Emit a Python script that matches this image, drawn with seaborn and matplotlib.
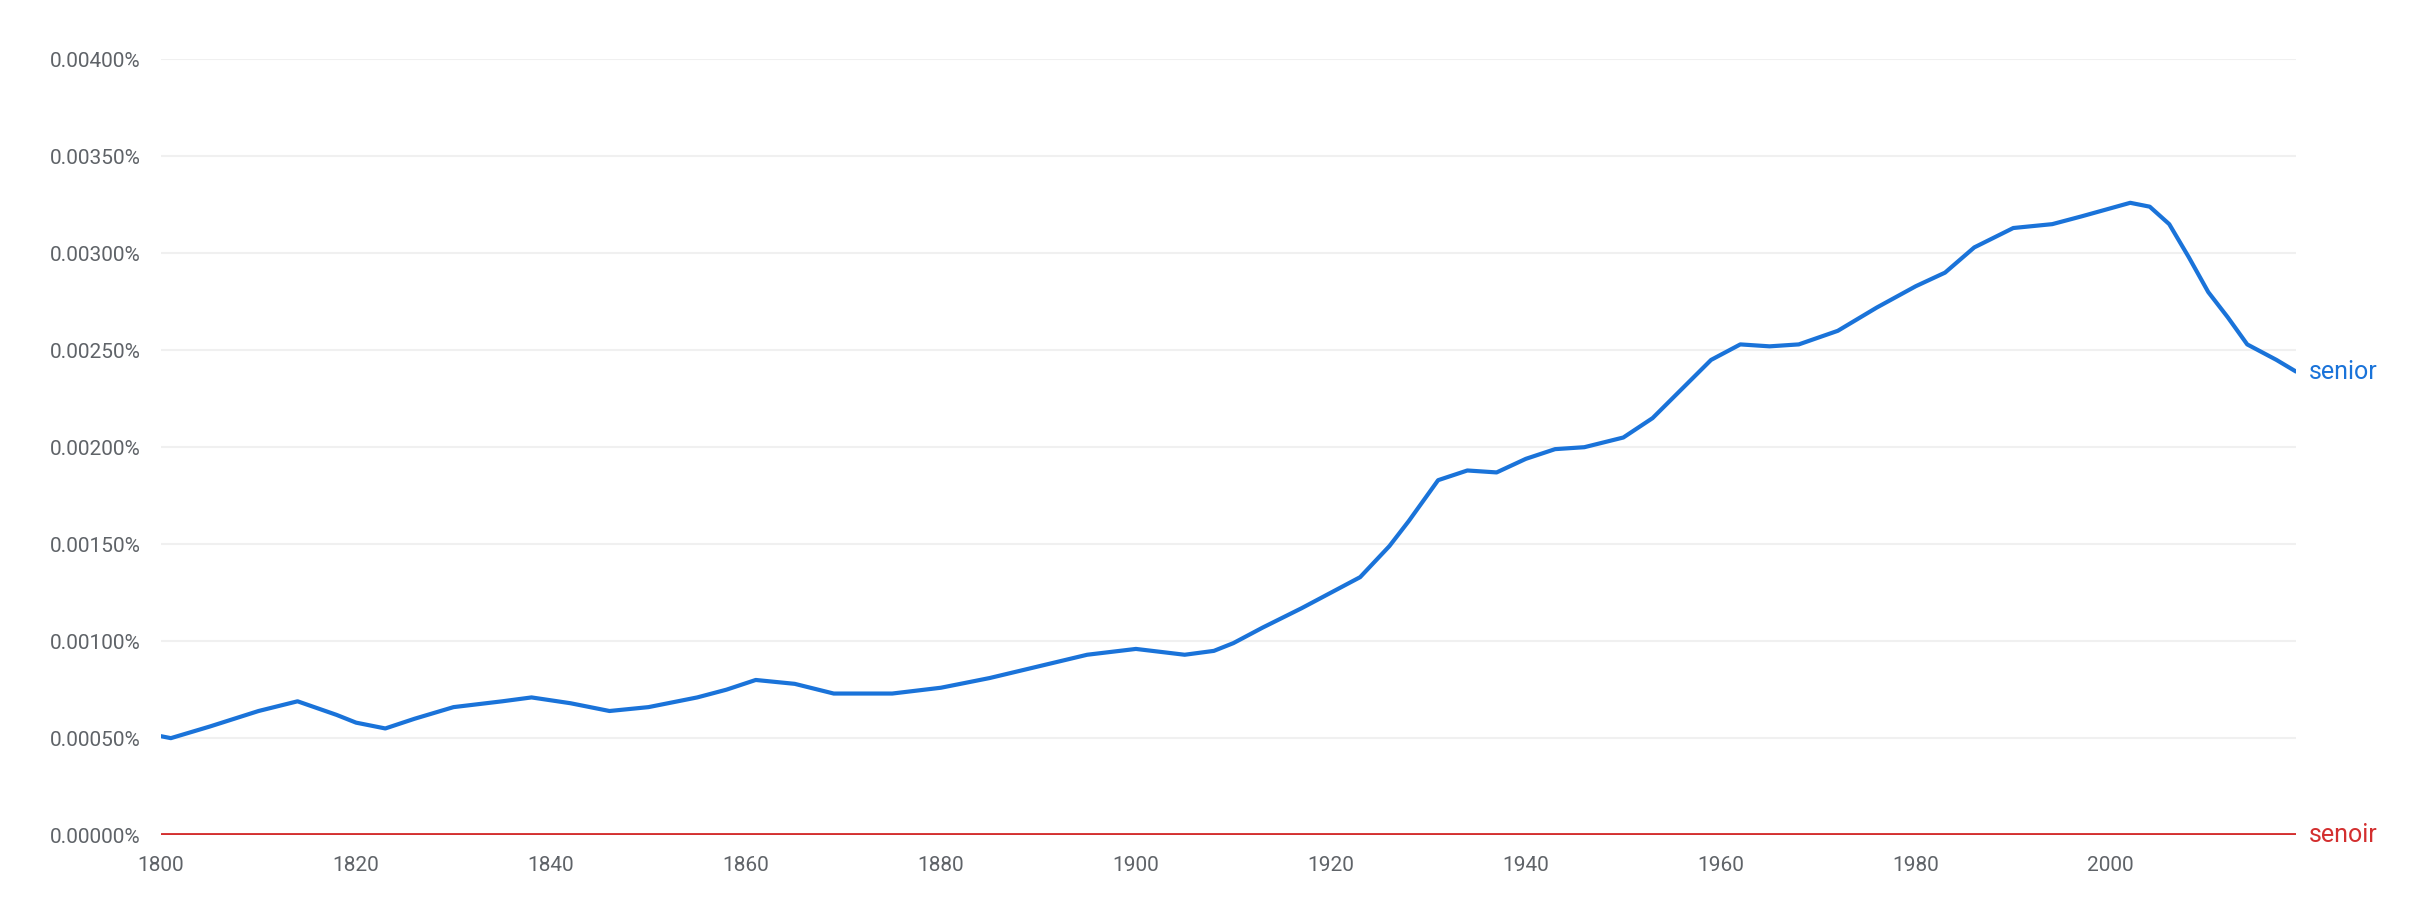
import numpy as np
import pandas as pd
import matplotlib.pyplot as plt
import seaborn as sns

# values (percent of corpus)
years = [1800, 1801, 1805, 1810, 1814, 1818, 1820, 1823, 1826, 1830, 1835, 1838, 1842,
         1846, 1850, 1855, 1858, 1861, 1865, 1869, 1875, 1880, 1885, 1890, 1895,
         1900, 1905, 1908, 1910, 1913, 1917, 1920, 1923, 1926, 1928, 1931, 1934,
         1937, 1940, 1943, 1946, 1950, 1953, 1956, 1959, 1962, 1965, 1968, 1972,
         1976, 1980, 1983, 1986, 1990, 1994, 1997, 2002, 2004, 2006, 2008, 2010, 2012,
         2014, 2017, 2019]
senior = [0.00051, 0.00050, 0.00056, 0.00064, 0.00069, 0.00062, 0.00058, 0.00055, 0.00060,
          0.00066, 0.00069, 0.00071, 0.00068, 0.00064, 0.00066, 0.00071, 0.00075,
          0.00080, 0.00078, 0.00073, 0.00073, 0.00076, 0.00081, 0.00087, 0.00093,
          0.00096, 0.00093, 0.00095, 0.00099, 0.00107, 0.00117, 0.00125, 0.00133,
          0.00149, 0.00162, 0.00183, 0.00188, 0.00187, 0.00194, 0.00199, 0.00200,
          0.00205, 0.00215, 0.00230, 0.00245, 0.00253, 0.00252, 0.00253, 0.00260,
          0.00272, 0.00283, 0.00290, 0.00303, 0.00313, 0.00315, 0.00319, 0.00326,
          0.00324, 0.00315, 0.00298, 0.00280, 0.00267, 0.00253, 0.00245, 0.00239]
senoir = [0.000002] * len(years)

x_ticks = list(range(1800, 2001, 20))
y_ticks = [0, 0.0005, 0.001, 0.0015, 0.002, 0.0025, 0.003, 0.0035, 0.004]

sns.set_style("white")
plt.rcParams['font.family'] = ['Roboto', 'DejaVu Sans']

df = pd.DataFrame({"year": years, "senior": senior, "senoir": senoir})

fig = plt.figure(figsize=(24.26, 8.98), dpi=100)
ax = fig.add_axes([0.0664, 0.070, 0.880, 0.864])

sns.lineplot(data=df, x="year", y="senior", ax=ax, color="#1a73d9", linewidth=3)
sns.lineplot(data=df, x="year", y="senoir", ax=ax, color="#d32f2f", linewidth=3.5)

ax.set_xlim(1800, 2019)
ax.set_ylim(0, 0.0040)
ax.set_xticks(x_ticks)
ax.set_yticks(y_ticks)
ax.set_yticklabels([f"{v:.5f}%" for v in y_ticks])
ax.set_xlabel("")
ax.set_ylabel("")
ax.grid(axis="y", color="#f0f0f0", linewidth=1.5)
for s in ["top", "right", "left", "bottom"]:
    ax.spines[s].set_visible(False)
ax.tick_params(axis="both", colors="#9e9e9e", labelsize=15, length=9, width=2,
               direction="out", labelcolor="#5f6368")
ax.tick_params(axis="y", pad=6)
ax.tick_params(axis="x", pad=6)

ax.text(2020.3, senior[-1], "senior", color="#1a73d9", fontsize=18, va="center")
ax.text(2020.3, senoir[-1], "senoir", color="#d32f2f", fontsize=18, va="center")

fig.savefig("out.png", dpi=100)
